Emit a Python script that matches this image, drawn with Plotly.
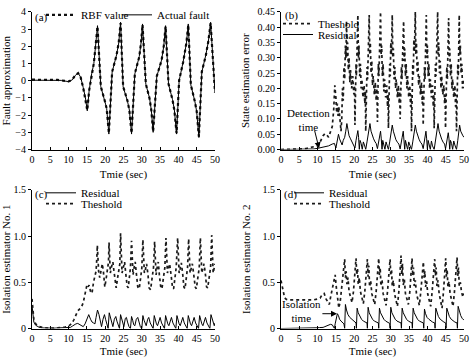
import plotly.graph_objects as go

# ---------------- Panel (a): fault approximation ----------------
t_a = [0, 1, 2, 3, 4, 5, 6, 7, 8, 9, 10, 11, 11.8, 12.6, 13.3, 14.0, 14.6, 15.1, 15.6, 16.3,
       16.9, 17.9, 18.8, 19.9, 20.4, 21.0, 21.9, 23.1, 23.7, 24.2, 24.9, 26.1, 26.6, 27.2, 28.1,
       29.3, 29.8, 30.2, 31.1, 32.1, 32.6, 33.1, 34.1, 35.4, 36.0, 36.5, 37.3, 38.4, 38.9, 39.5,
       40.2, 41.3, 42.2, 42.7, 43.4, 44.5, 45.0, 45.6, 46.4, 47.5, 48.2, 48.8, 50.0]
actual_a = [0.03, 0.03, 0.03, 0.03, 0.03, 0.03, 0.03, 0.03, 0.02, -0.02, -0.05, 0.05, 0.3, 0.45, 0.2,
            -0.4, -1.0, -1.75, -0.6, 0.4, 1.0, 3.2, -0.35, -1.2, -1.6, -3.1, 0.5, 1.5, 2.2, 3.4,
            -0.35, -1.2, -1.7, -3.1, 0.4, 1.4, 2.2, 3.3, -0.2, -1.0, -1.7, -3.0, 0.25, 1.2, 2.0,
            3.2, -0.2, -1.1, -1.7, -3.1, 0.0, 1.1, 2.2, 3.3, -0.25, -1.2, -1.8, -3.3, 0.5, 1.5,
            2.3, 3.4, -0.7]
rbf_a = [0.06, 0.06, 0.07, 0.06, 0.07, 0.06, 0.07, 0.05, 0.02, -0.02, -0.04, 0.06, 0.31, 0.44, 0.19,
         -0.42, -1.02, -1.72, -0.58, 0.42, 1.02, 3.15, -0.33, -1.18, -1.62, -3.05, 0.52, 1.48, 2.22, 3.35,
         -0.33, -1.18, -1.72, -3.05, 0.42, 1.38, 2.22, 3.25, -0.18, -1.02, -1.72, -2.95, 0.27, 1.18, 2.02,
         3.15, -0.18, -1.12, -1.72, -3.05, 0.02, 1.08, 2.22, 3.25, -0.23, -1.22, -1.78, -3.25, 0.52, 1.48,
         2.32, 3.35, -0.68]

# ---------------- Panel (b): state estimation error ----------------
t_thr_b = [0, 5, 6, 7, 8, 9, 10, 10.5, 11, 11.5, 12, 12.5, 13, 13.5, 14, 14.4, 14.7, 15.0, 15.2, 15.4,
           15.6, 15.8, 16.1, 16.4, 16.6, 16.8, 17.0, 17.2, 17.4, 17.6, 17.75, 17.9,
           18.05, 18.2, 18.4, 18.6, 18.8, 19.0, 19.3, 19.6, 19.9, 20.1, 20.2, 20.3, 20.5, 20.6, 20.75, 20.85,
           21.0, 21.15, 21.3, 21.5, 21.7, 21.9, 22.1, 22.4, 22.7, 22.9, 23.05, 23.15, 23.3, 23.5, 23.65,
           23.8, 23.95, 24.1, 24.25, 24.4, 24.6, 24.8, 25.0, 25.2, 25.5, 25.8, 26.0, 26.2, 26.35, 26.45,
           26.6, 26.75, 26.9, 27.05, 27.2, 27.35, 27.5, 27.7, 27.9, 28.1, 28.3, 28.6, 28.9, 29.1, 29.25,
           29.35, 29.5, 29.7, 29.85, 30.0, 30.15, 30.4, 30.55, 30.7, 30.9, 31.1, 31.3, 31.5, 31.8, 32.1,
           32.3, 32.45, 32.55, 32.7, 32.9, 33.05, 33.2, 33.35, 33.5, 33.65, 33.8, 34.0, 34.2, 34.4, 34.6,
           34.9, 35.2, 35.4, 35.55, 35.65, 35.8, 36.0, 36.15, 36.3, 36.45, 36.7, 36.85, 37.0, 37.2, 37.4,
           37.6, 37.8, 38.1, 38.4, 38.6, 38.75, 38.85, 39.0, 39.2, 39.35, 39.5, 39.6, 39.7, 39.85, 40.0,
           40.2, 40.4, 40.6, 40.8, 41.1, 41.4, 41.6, 41.75, 41.85, 42.0, 42.2, 42.35, 42.5, 42.65, 42.8,
           42.95, 43.1, 43.3, 43.5, 43.7, 43.9, 44.2, 44.5, 44.7, 44.85, 44.95, 45.1, 45.3, 45.45, 45.6,
           45.7, 45.8, 45.95, 46.1, 46.3, 46.5, 46.7, 46.9, 47.2, 47.5, 47.7, 47.85, 47.95, 48.1, 48.3,
           48.45, 48.6, 48.7, 48.85, 49.0, 49.2, 49.4, 49.6, 49.8, 50.0]
thr_b = [0.0, 0.0, 0.002, 0.004, 0.006, 0.008, 0.012, 0.02, 0.035, 0.045, 0.052, 0.048, 0.04, 0.055, 0.075,
         0.13, 0.21, 0.17, 0.12, 0.15, 0.11, 0.14, 0.08, 0.06, 0.10, 0.20, 0.16, 0.27, 0.23, 0.34, 0.30, 0.42,
         0.30, 0.35, 0.26, 0.30, 0.22, 0.26, 0.20, 0.24, 0.18, 0.21, 0.08, 0.20, 0.28, 0.24, 0.34, 0.30,
         0.44, 0.30, 0.34, 0.24, 0.28, 0.20, 0.23, 0.17, 0.21, 0.15, 0.19, 0.06, 0.21, 0.27, 0.23,
         0.35, 0.31, 0.44, 0.31, 0.35, 0.25, 0.29, 0.21, 0.24, 0.18, 0.22, 0.16, 0.20, 0.09, 0.22,
         0.28, 0.24, 0.36, 0.32, 0.45, 0.31, 0.34, 0.24, 0.28, 0.19, 0.23, 0.17, 0.21, 0.14, 0.18,
         0.07, 0.21, 0.28, 0.24, 0.35, 0.31, 0.44, 0.30, 0.33, 0.23, 0.27, 0.20, 0.23, 0.17, 0.21,
         0.15, 0.19, 0.10, 0.22, 0.27, 0.23, 0.34, 0.30, 0.42, 0.29, 0.33, 0.24, 0.28, 0.20, 0.24,
         0.17, 0.21, 0.14, 0.18, 0.06, 0.22, 0.28, 0.24, 0.36, 0.32, 0.45, 0.31, 0.35, 0.25, 0.29,
         0.21, 0.24, 0.18, 0.22, 0.15, 0.19, 0.08, 0.21, 0.27, 0.23, 0.35, 0.31, 0.44, 0.30, 0.34,
         0.24, 0.28, 0.20, 0.23, 0.17, 0.21, 0.14, 0.18, 0.07, 0.22, 0.28, 0.24, 0.36, 0.32, 0.45,
         0.31, 0.35, 0.25, 0.29, 0.20, 0.24, 0.18, 0.21, 0.15, 0.18, 0.07, 0.21, 0.27, 0.23, 0.34,
         0.30, 0.43, 0.30, 0.33, 0.24, 0.28, 0.20, 0.23, 0.17, 0.21, 0.14, 0.18, 0.06, 0.22, 0.28,
         0.24, 0.35, 0.44, 0.31, 0.34, 0.25, 0.28, 0.20, 0.23, 0.20]
t_res_b = [0, 8, 9, 10, 11, 12, 13, 14, 14.6, 15.0, 15.4, 15.7, 16.0, 16.4, 16.7, 17.0, 17.4, 17.7,
           18.0, 18.3, 18.6, 19.0, 19.4, 19.8, 20.2, 20.5, 20.8, 21.0, 21.2, 21.4, 21.6, 21.9, 22.2,
           22.5, 22.8, 23.15, 23.5, 23.8, 24.1, 24.3, 24.6, 24.9, 25.3, 25.7, 26.0, 26.35, 26.6, 26.9,
           27.2, 27.4, 27.6, 27.8, 28.1, 28.4, 28.7, 29.0, 29.35, 29.7, 30.0, 30.2, 30.4, 30.7, 31.0,
           31.4, 31.8, 32.2, 32.55, 32.8, 33.1, 33.4, 33.6, 33.8, 34.0, 34.3, 34.6, 34.9, 35.2, 35.65,
           36.0, 36.3, 36.5, 36.7, 37.0, 37.3, 37.7, 38.1, 38.5, 38.85, 39.1, 39.4, 39.6, 39.8, 40.0,
           40.2, 40.5, 40.8, 41.1, 41.4, 41.85, 42.2, 42.5, 42.7, 42.9, 43.2, 43.5, 43.9, 44.3, 44.7,
           44.95, 45.2, 45.5, 45.7, 45.9, 46.1, 46.3, 46.6, 46.9, 47.2, 47.5, 47.95, 48.3, 48.6, 48.8,
           49.1, 49.4, 49.7, 50.0]
res_b = [0.0, 0.0, 0.002, 0.004, 0.006, 0.008, 0.012, 0.018, 0.02, 0.005, 0.03, 0.05, 0.035, 0.02, 0.015,
         0.03, 0.04, 0.06, 0.085, 0.065, 0.045, 0.035, 0.025, 0.018, 0.005, 0.03, 0.045, 0.062, 0.04, 0.0,
         0.03, 0.02, 0.0, 0.025, 0.015, 0.0, 0.025, 0.05, 0.06, 0.085, 0.06, 0.045, 0.035, 0.025, 0.02,
         0.003, 0.025, 0.04, 0.06, 0.035, 0.0, 0.03, 0.018, 0.0, 0.025, 0.012, 0.0, 0.025, 0.05, 0.06,
         0.08, 0.06, 0.045, 0.032, 0.024, 0.018, 0.002, 0.025, 0.04, 0.06, 0.035, 0.0, 0.03, 0.018, 0.0,
         0.025, 0.012, 0.0, 0.025, 0.05, 0.06, 0.08, 0.06, 0.045, 0.034, 0.024, 0.018, 0.003, 0.025, 0.04,
         0.06, 0.035, 0.0, 0.03, 0.018, 0.0, 0.028, 0.012, 0.0, 0.025, 0.05, 0.06, 0.085, 0.06, 0.045,
         0.034, 0.024, 0.018, 0.002, 0.025, 0.04, 0.055, 0.035, 0.0, 0.03, 0.02, 0.0, 0.028, 0.015, 0.0,
         0.03, 0.06, 0.08, 0.06, 0.05, 0.045, 0.04]

# ---------------- Panel (c): isolation estimator No. 1 ----------------
t_thr_c = [0, 0.2, 0.5, 1, 1.5, 2, 3, 4, 5, 6, 7, 8, 9, 10, 10.5, 11, 11.5, 12, 12.5, 13, 13.5, 14,
           14.5, 15.0, 15.3, 15.6, 16.0, 16.4, 16.8, 17.2, 17.5, 17.7, 17.85, 18.0, 18.2, 18.5, 18.8,
           19.2, 19.5, 19.9, 20.3, 20.6, 20.9, 21.05, 21.2, 21.4, 21.8, 22.1, 22.4, 22.8, 23.0, 23.4,
           23.7, 24.0, 24.2, 24.35, 24.6, 24.9, 25.3, 25.6, 26.0, 26.3, 26.6, 26.9, 27.2, 27.35, 27.6,
           27.9, 28.2, 28.5, 28.9, 29.3, 29.7, 30.0, 30.3, 30.45, 30.7, 31.0, 31.3, 31.7, 32.0, 32.4,
           32.8, 33.2, 33.5, 33.65, 33.9, 34.2, 34.5, 34.8, 35.2, 35.5, 35.9, 36.3, 36.6, 36.75, 37.0,
           37.3, 37.6, 38.0, 38.4, 38.7, 39.1, 39.4, 39.8, 39.95, 40.2, 40.5, 40.8, 41.2, 41.5, 41.8,
           42.2, 42.5, 42.8, 42.95, 43.2, 43.5, 43.8, 44.2, 44.6, 44.9, 45.3, 45.7, 46.0, 46.15, 46.4,
           46.7, 47.0, 47.4, 47.7, 48.0, 48.4, 48.8, 49.1, 49.3, 49.5, 49.8, 50.0]
thr_c = [0.32, 0.2, 0.1, 0.05, 0.03, 0.02, 0.01, 0.005, 0.004, 0.005, 0.008, 0.012, 0.015, 0.025, 0.04,
         0.06, 0.10, 0.15, 0.19, 0.21, 0.23, 0.28, 0.36, 0.47, 0.45, 0.47, 0.40, 0.38, 0.50, 0.58, 0.62,
         0.75, 0.90, 0.78, 0.62, 0.55, 0.62, 0.70, 0.62, 0.45, 0.55, 0.68, 0.72, 0.93, 0.75, 0.60, 0.68,
         0.72, 0.62, 0.48, 0.44, 0.55, 0.65, 0.70, 1.03, 0.75, 0.60, 0.65, 0.72, 0.60, 0.46, 0.44, 0.58,
         0.66, 0.95, 0.72, 0.58, 0.66, 0.72, 0.60, 0.45, 0.43, 0.58, 0.65, 0.96, 0.72, 0.60, 0.64, 0.70,
         0.58, 0.44, 0.42, 0.58, 0.66, 0.94, 0.72, 0.58, 0.66, 0.72, 0.58, 0.44, 0.43, 0.58, 0.66, 0.98,
         0.72, 0.60, 0.65, 0.70, 0.58, 0.44, 0.43, 0.58, 0.66, 0.98, 0.72, 0.60, 0.65, 0.71, 0.58, 0.45,
         0.43, 0.58, 0.66, 0.97, 0.72, 0.60, 0.65, 0.70, 0.58, 0.45, 0.43, 0.58, 0.66, 0.98, 0.72, 0.60,
         0.65, 0.70, 0.58, 0.45, 0.44, 0.58, 0.66, 1.01, 0.72, 0.60, 0.66, 0.70]
t_res_c = [0, 0.2, 0.5, 1, 1.5, 2, 3, 4, 5, 6, 7, 8, 9, 10, 10.5, 11, 11.5, 12, 12.5, 13, 13.5, 14,
           14.5, 15, 15.5, 16, 16.4, 16.8, 17.2, 17.5, 17.9, 18.3, 18.7, 19.0, 19.4, 19.8, 20.1, 20.5,
           20.8, 21.1, 21.4, 21.8, 22.1, 22.5, 22.9, 23.2, 23.6, 23.9, 24.2, 24.5, 24.8, 25.1, 25.5,
           25.8, 26.1, 26.5, 26.9, 27.2, 27.5, 27.8, 28.1, 28.5, 28.9, 29.2, 29.6, 30.0, 30.3, 30.6,
           30.9, 31.2, 31.6, 31.9, 32.3, 32.7, 33.1, 33.4, 33.7, 34.0, 34.3, 34.7, 35.0, 35.4, 35.8,
           36.2, 36.5, 36.8, 37.1, 37.4, 37.8, 38.1, 38.5, 38.9, 39.3, 39.6, 39.9, 40.2, 40.5, 40.9,
           41.2, 41.6, 42.0, 42.4, 42.7, 43.0, 43.3, 43.6, 44.0, 44.3, 44.7, 45.1, 45.5, 45.8, 46.1,
           46.4, 46.7, 47.1, 47.4, 47.8, 48.2, 48.6, 48.9, 49.2, 49.5, 49.8, 50.0]
res_c = [0.25, 0.15, 0.07, 0.035, 0.02, 0.012, 0.006, 0.003, 0.002, 0.003, 0.006, 0.008, 0.01, 0.008,
         0.012, 0.025, 0.04, 0.05, 0.055, 0.045, 0.03, 0.02, 0.05, 0.1, 0.15, 0.10, 0.07, 0.06, 0.05, 0.12,
         0.20, 0.15, 0.06, 0.02, 0.10, 0.15, 0.10, 0.04, 0.0, 0.17, 0.12, 0.06, 0.02, 0.10, 0.13, 0.08,
         0.03, 0.0, 0.15, 0.10, 0.05, 0.02, 0.11, 0.12, 0.07, 0.02, 0.0, 0.13, 0.09, 0.04, 0.03, 0.10,
         0.12, 0.06, 0.02, 0.0, 0.14, 0.09, 0.05, 0.03, 0.10, 0.12, 0.06, 0.02, 0.0, 0.14, 0.09, 0.05,
         0.03, 0.10, 0.12, 0.06, 0.02, 0.0, 0.14, 0.09, 0.05, 0.03, 0.10, 0.12, 0.06, 0.02, 0.0, 0.14,
         0.09, 0.05, 0.03, 0.10, 0.12, 0.06, 0.02, 0.0, 0.14, 0.09, 0.05, 0.03, 0.10, 0.12, 0.06, 0.02,
         0.0, 0.14, 0.09, 0.05, 0.03, 0.10, 0.12, 0.06, 0.02, 0.0, 0.15, 0.10, 0.05, 0.03, 0.06]

# ---------------- Panel (d): isolation estimator No. 2 ----------------
t_thr_d = [0, 0.3, 0.6, 1.0, 1.5, 2, 4, 6, 8, 9, 10, 10.7, 11.3, 11.8, 12.3, 12.8, 13.2, 13.6, 14.2,
           14.8, 15.1, 15.4, 15.8, 16.2, 16.6, 17.0, 17.4, 17.6, 17.8, 18.0, 18.3, 18.6, 19.0, 19.4,
           19.8, 20.1, 20.5, 20.7, 20.9, 21.1, 21.4, 21.7, 22.1, 22.5, 22.9, 23.2, 23.6, 23.8, 24.0,
           24.2, 24.5, 24.8, 25.2, 25.6, 26.0, 26.3, 26.7, 26.9, 27.1, 27.3, 27.6, 27.9, 28.3, 28.7,
           29.1, 29.4, 29.8, 30.0, 30.2, 30.4, 30.7, 31.0, 31.4, 31.8, 32.2, 32.5, 32.8, 33.0, 33.2,
           33.4, 33.7, 34.0, 34.4, 34.8, 35.2, 35.5, 35.8, 36.0, 36.2, 36.4, 36.7, 37.0, 37.4, 37.8,
           38.2, 38.5, 38.9, 39.1, 39.3, 39.5, 39.8, 40.1, 40.5, 40.9, 41.3, 41.6, 42.0, 42.2, 42.4,
           42.6, 42.9, 43.2, 43.6, 44.0, 44.4, 44.7, 45.0, 45.2, 45.4, 45.6, 45.9, 46.2, 46.6, 47.0,
           47.4, 47.7, 48.1, 48.3, 48.5, 48.7, 49.0, 49.3, 49.7, 50.0]
thr_d = [0.52, 0.45, 0.38, 0.33, 0.315, 0.31, 0.31, 0.31, 0.31, 0.31, 0.32, 0.33, 0.37, 0.38, 0.32, 0.28,
         0.26, 0.35, 0.45, 0.58, 0.45, 0.32, 0.22, 0.30, 0.45, 0.60, 0.75, 0.55, 0.62, 0.48, 0.55, 0.40,
         0.33, 0.28, 0.40, 0.55, 0.76, 0.58, 0.65, 0.48, 0.55, 0.40, 0.32, 0.27, 0.40, 0.55, 0.75, 0.56,
         0.68, 0.45, 0.52, 0.38, 0.30, 0.26, 0.40, 0.55, 0.76, 0.58, 0.66, 0.46, 0.53, 0.38, 0.30, 0.25,
         0.40, 0.55, 0.75, 0.57, 0.64, 0.46, 0.52, 0.38, 0.30, 0.24, 0.40, 0.58, 0.79, 0.58, 0.70, 0.47,
         0.53, 0.38, 0.30, 0.26, 0.40, 0.55, 0.76, 0.57, 0.66, 0.46, 0.52, 0.38, 0.30, 0.25, 0.40, 0.55,
         0.72, 0.55, 0.62, 0.45, 0.51, 0.37, 0.30, 0.24, 0.40, 0.55, 0.75, 0.57, 0.66, 0.46, 0.52, 0.38,
         0.30, 0.22, 0.40, 0.55, 0.76, 0.56, 0.64, 0.45, 0.51, 0.38, 0.30, 0.24, 0.40, 0.55, 0.77, 0.57,
         0.66, 0.46, 0.50, 0.40, 0.34, 0.38]
t_res_d = [0, 9, 9.5, 10, 10.5, 11, 11.5, 12, 12.5, 13, 13.5, 14, 14.4, 14.6, 14.8, 15.1, 15.4, 15.7,
           16.0, 16.4, 16.8, 17.2, 17.4, 17.6, 17.9, 18.3, 18.8, 19.3, 19.8, 20.2, 20.5, 20.6, 20.8,
           21.1, 21.5, 22.0, 22.5, 23.0, 23.5, 23.6, 23.8, 24.1, 24.5, 25.0, 25.5, 26.0, 26.6, 26.7,
           26.9, 27.2, 27.6, 28.1, 28.6, 29.1, 29.7, 29.8, 30.0, 30.3, 30.7, 31.2, 31.7, 32.2, 32.8,
           32.9, 33.1, 33.4, 33.8, 34.3, 34.8, 35.3, 35.8, 35.9, 36.1, 36.4, 36.8, 37.3, 37.8, 38.3,
           38.9, 39.0, 39.2, 39.5, 39.9, 40.4, 40.9, 41.4, 42.0, 42.1, 42.3, 42.6, 43.0, 43.5, 44.0,
           44.5, 45.0, 45.1, 45.3, 45.6, 46.0, 46.5, 47.0, 47.5, 48.1, 48.2, 48.4, 48.7, 49.1, 49.5, 50.0]
res_d = [0.0, 0.0, 0.003, 0.008, 0.01, 0.01, 0.012, 0.02, 0.03, 0.04, 0.045, 0.04, 0.02, 0.0, 0.05, 0.12,
         0.16, 0.14, 0.10, 0.08, 0.06, 0.05, 0.0, 0.26, 0.20, 0.15, 0.12, 0.10, 0.08, 0.065, 0.06, 0.0,
         0.22, 0.17, 0.13, 0.10, 0.08, 0.07, 0.06, 0.0, 0.23, 0.17, 0.13, 0.10, 0.08, 0.07, 0.06, 0.0,
         0.22, 0.17, 0.13, 0.10, 0.08, 0.07, 0.055, 0.0, 0.23, 0.17, 0.13, 0.10, 0.08, 0.07, 0.06, 0.0,
         0.22, 0.17, 0.13, 0.10, 0.08, 0.07, 0.06, 0.0, 0.22, 0.17, 0.13, 0.10, 0.08, 0.07, 0.06, 0.0,
         0.21, 0.16, 0.12, 0.10, 0.08, 0.07, 0.06, 0.0, 0.22, 0.17, 0.13, 0.10, 0.08, 0.07, 0.06, 0.0,
         0.22, 0.17, 0.13, 0.10, 0.08, 0.07, 0.06, 0.0, 0.24, 0.18, 0.14, 0.11, 0.09]

x_ticks = [0, 5, 10, 15, 20, 25, 30, 35, 40, 45, 50]
a_ticks = [-4, -3, -2, -1, 0, 1, 2, 3, 4]
b_ticks = [0.0, 0.05, 0.10, 0.15, 0.20, 0.25, 0.30, 0.35, 0.40, 0.45]
cd_ticks = [0, 0.5, 1.0, 1.5]
cd_labels = ["0", "0.5", "1.0", "1.5"]

for a, b in [(t_a, actual_a), (t_a, rbf_a), (t_thr_b, thr_b), (t_res_b, res_b), (t_thr_c, thr_c),
             (t_res_c, res_c), (t_thr_d, thr_d), (t_res_d, res_d)]:
    assert len(a) == len(b), (len(a), len(b))

FONT = "Liberation Serif"
DOT = dict(color="#1a1a1a", width=1.7, dash="dot")
SOLID = dict(color="#000", width=1.0)

fig = go.Figure()
fig.add_trace(go.Scatter(x=t_a, y=rbf_a, mode="lines", name="RBF value",
                         line=dict(color="#111", width=2.2, dash="dot"),
                         xaxis="x", yaxis="y", legend="legend"))
fig.add_trace(go.Scatter(x=t_a, y=actual_a, mode="lines", name="Actual fault", line=SOLID,
                         xaxis="x", yaxis="y", legend="legend2"))
fig.add_trace(go.Scatter(x=t_thr_b, y=thr_b, mode="lines", name="Theshold", line=DOT,
                         xaxis="x2", yaxis="y2", legend="legend3"))
fig.add_trace(go.Scatter(x=t_res_b, y=res_b, mode="lines", name="Residual", line=SOLID,
                         xaxis="x2", yaxis="y2", legend="legend4"))
fig.add_trace(go.Scatter(x=t_res_c, y=res_c, mode="lines", name="Residual", line=SOLID,
                         xaxis="x3", yaxis="y3", legend="legend5"))
fig.add_trace(go.Scatter(x=t_thr_c, y=thr_c, mode="lines", name="Theshold", line=DOT,
                         xaxis="x3", yaxis="y3", legend="legend6"))
fig.add_trace(go.Scatter(x=t_res_d, y=res_d, mode="lines", name="Residual", line=SOLID,
                         xaxis="x4", yaxis="y4", legend="legend7"))
fig.add_trace(go.Scatter(x=t_thr_d, y=thr_d, mode="lines", name="Theshold", line=DOT,
                         xaxis="x4", yaxis="y4", legend="legend8"))

W, H = 474, 358
xl = [32 / W, 215 / W]
xr = [281 / W, 464 / W]
yt = [1 - 146 / H, 1 - 6 / H]
yb = [1 - 328 / H, 1 - 187 / H]

common = dict(showline=True, linecolor="black", linewidth=1, tickcolor="black", tickwidth=1,
              showgrid=False, zeroline=False, automargin=False,
              tickfont=dict(family=FONT, size=10, color="black"))
xcommon = dict(ticks="inside", ticklen=3, range=[0, 50], tickvals=x_ticks, **common)
ycommon = dict(ticks="outside", ticklen=3, **common)
xt = dict(text="Tmie (sec)", font=dict(family=FONT, size=11, color="black"), standoff=6)


def ytitle(s, so):
    return dict(text=s, font=dict(family=FONT, size=11, color="black"), standoff=so)


def leg(px, py):
    return dict(x=px / W, y=1 - py / H, xanchor="left", yanchor="middle", bgcolor="rgba(0,0,0,0)",
                font=dict(family=FONT, size=11, color="black"), itemwidth=30, borderwidth=0)


fig.update_layout(
    width=W, height=H, margin=dict(l=0, r=0, t=0, b=0),
    paper_bgcolor="white", plot_bgcolor="white",
    font=dict(family=FONT, size=11, color="black"),
    xaxis=dict(domain=xl, anchor="y", title=xt, **xcommon),
    yaxis=dict(domain=yt, anchor="x", range=[-4, 4], tickvals=a_ticks,
               title=ytitle("Fault approximation", 5), **ycommon),
    xaxis2=dict(domain=xr, anchor="y2", title=xt, **xcommon),
    yaxis2=dict(domain=yt, anchor="x2", range=[0, 0.45], tickvals=b_ticks, tickformat=".2f",
                title=ytitle("State estimation error", 5), **ycommon),
    xaxis3=dict(domain=xl, anchor="y3", title=xt, **xcommon),
    yaxis3=dict(domain=yb, anchor="x3", range=[0, 1.5], tickvals=cd_ticks, ticktext=cd_labels,
                title=ytitle("Isolation estimator No. 1", 6), **ycommon),
    xaxis4=dict(domain=xr, anchor="y4", title=xt, **xcommon),
    yaxis4=dict(domain=yb, anchor="x4", range=[0, 1.5], tickvals=cd_ticks, ticktext=cd_labels,
                title=ytitle("Isolation estimator No. 2", 9), **ycommon),
    legend=leg(41, 9),
    legend2=leg(117, 9),
    legend3=leg(278, 18),
    legend4=leg(278, 29),
    legend5=leg(41, 190),
    legend6=leg(41, 201),
    legend7=leg(289, 190),
    legend8=leg(289, 201),
    showlegend=True,
)

ann_font = dict(family=FONT, size=11, color="black")
for txt, px, py in [("(a)", 33, 12), ("(b)", 283, 10), ("(c)", 33, 192), ("(d)", 282, 192)]:
    fig.add_annotation(text=txt, xref="paper", yref="paper", x=px / W, y=1 - py / H, xanchor="left",
                       yanchor="middle", showarrow=False, font=ann_font)

# Detection time (b)
fig.add_annotation(text="Detection<br>time", xref="x2", yref="y2", x=7.4, y=0.096, showarrow=False,
                   font=ann_font, align="center")
fig.add_annotation(text="", xref="x2", yref="y2", x=10.4, y=0.004, ax=9.1, ay=0.066, axref="x2", ayref="y2",
                   showarrow=True, arrowhead=2, arrowsize=1.2, arrowwidth=1, arrowcolor="black")
# Isolation time (d)
fig.add_annotation(text="Isolation<br>time", xref="x4", yref="y4", x=5.5, y=0.19, showarrow=False,
                   font=ann_font, align="center")
fig.add_annotation(text="", xref="x4", yref="y4", x=15.3, y=0.16, ax=10.9, ay=0.16, axref="x4", ayref="y4",
                   showarrow=True, arrowhead=2, arrowsize=1.2, arrowwidth=1, arrowcolor="black")

fig.write_html("out.html", config={"displayModeBar": False},
               post_script="document.body.style.margin='0';")
